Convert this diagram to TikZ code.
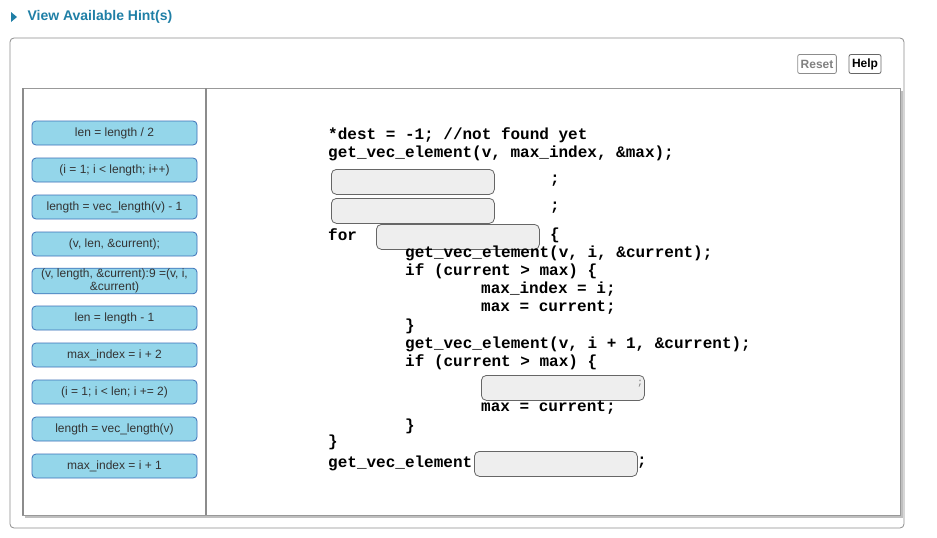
\documentclass[tikz,border=0pt]{standalone}
\usepackage{fontspec}
\setmainfont{Liberation Sans}
\newfontfamily\codefont{Liberation Mono}
\definecolor{hint}{HTML}{1F7FA6}
\definecolor{tile}{HTML}{94D6EA}
\definecolor{tileb}{HTML}{3C70B8}
\definecolor{blank}{HTML}{EEEEEE}
\begin{document}
\begin{tikzpicture}[x=1pt,y=-1pt,
 tilebox/.style={draw=tileb,line width=0.8pt,fill=tile,rounded corners=4pt,minimum width=165pt,minimum height=24pt,font=\fontsize{12}{12.5}\selectfont,text=black!80,align=center,inner sep=1pt},
 blankbox/.style={draw=black!60,line width=0.8pt,fill=blank,rounded corners=5pt,minimum width=163pt,minimum height=25pt,anchor=north west},
 code/.style={font=\codefont\bfseries\fontsize{16}{18}\selectfont,anchor=west,inner sep=0pt},
 btn/.style={draw=black!60,line width=0.8pt,rounded corners=2pt,font=\bfseries\fontsize{12}{13}\selectfont,minimum height=19pt,inner sep=3pt}]
\useasboundingbox (0,0) rectangle (937,538);
\fill[hint] (11,12) -- (17,17) -- (11,22) -- cycle;
\node[anchor=west,text=hint,font=\bfseries\fontsize{14}{16}\selectfont] (hints) at (24,17) {View Available Hint(s)};
\draw[black!45,line width=0.8pt,rounded corners=4pt] (10,38) rectangle (904,528);
\node[btn,text=black!50,draw=black!45] (reset) at (817,64) {Reset};
\node[btn] (help) at (865,64) {Help};
\fill[black!25] (25,91) rectangle (903,518);
\draw[black!40,fill=white] (22,88) rectangle (900,515);
\draw[black!45,line width=1.5pt] (206,88) -- (206,515);
\draw[black!45,line width=1.5pt] (23,88) -- (23,515);
\foreach \t [count=\i] in {len = length / 2,(i = 1; i < length; i++),length = vec\_length(v) - 1,{(v, len, \&current);},{(v, length, \&current):9 =(v, i,\\\&current)},len = length - 1,max\_index = i + 2,(i = 1; i < len; i += 2),length = vec\_length(v),max\_index = i + 1}
  \node[tilebox] (t\i) at (114.5,{133+(\i-1)*37}) {\t};
\node[code] (c1) at (328,135) {*dest = -1; //not found yet};
\node[code] (c2) at (328,153) {get\_vec\_element(v, max\_index, \&max);};
\node[blankbox] (b1) at (331,169) {};
\node[code] (s1) at (550,181) {;};
\node[blankbox] (b2) at (331,198) {};
\node[code] (s2) at (550,208) {;};
\node[code] (c3) at (328,235) {for};
\node[blankbox] (b3) at (376,224) {};
\node[code] (s3) at (550,235) {\{};
\node[code] (c4) at (405,253) {get\_vec\_element(v, i, \&current);};
\node[code] (c5) at (405,271) {if (current > max) \{};
\node[code] (c6) at (481,289) {max\_index = i;};
\node[code] (c7) at (481,308) {max = current;};
\node[code] (c8) at (405,326) {\}};
\node[code] (c9) at (405,344) {get\_vec\_element(v, i + 1, \&current);};
\node[code] (c10) at (405,362) {if (current > max) \{};
\node[blankbox] (b4) at (481,375) {};
\node[code,text=black!50,font=\codefont\fontsize{10}{12}\selectfont] (s4) at (637,384) {;};
\node[code] (c11) at (481,408) {max = current;};
\node[code] (c12) at (405,426) {\}};
\node[code] (c13) at (328,442) {\}};
\node[code] (c14) at (328,463) {get\_vec\_element};
\node[blankbox] (b5) at (474,451) {};
\node[code] (s5) at (637,463) {;};
\end{tikzpicture}
\end{document}
